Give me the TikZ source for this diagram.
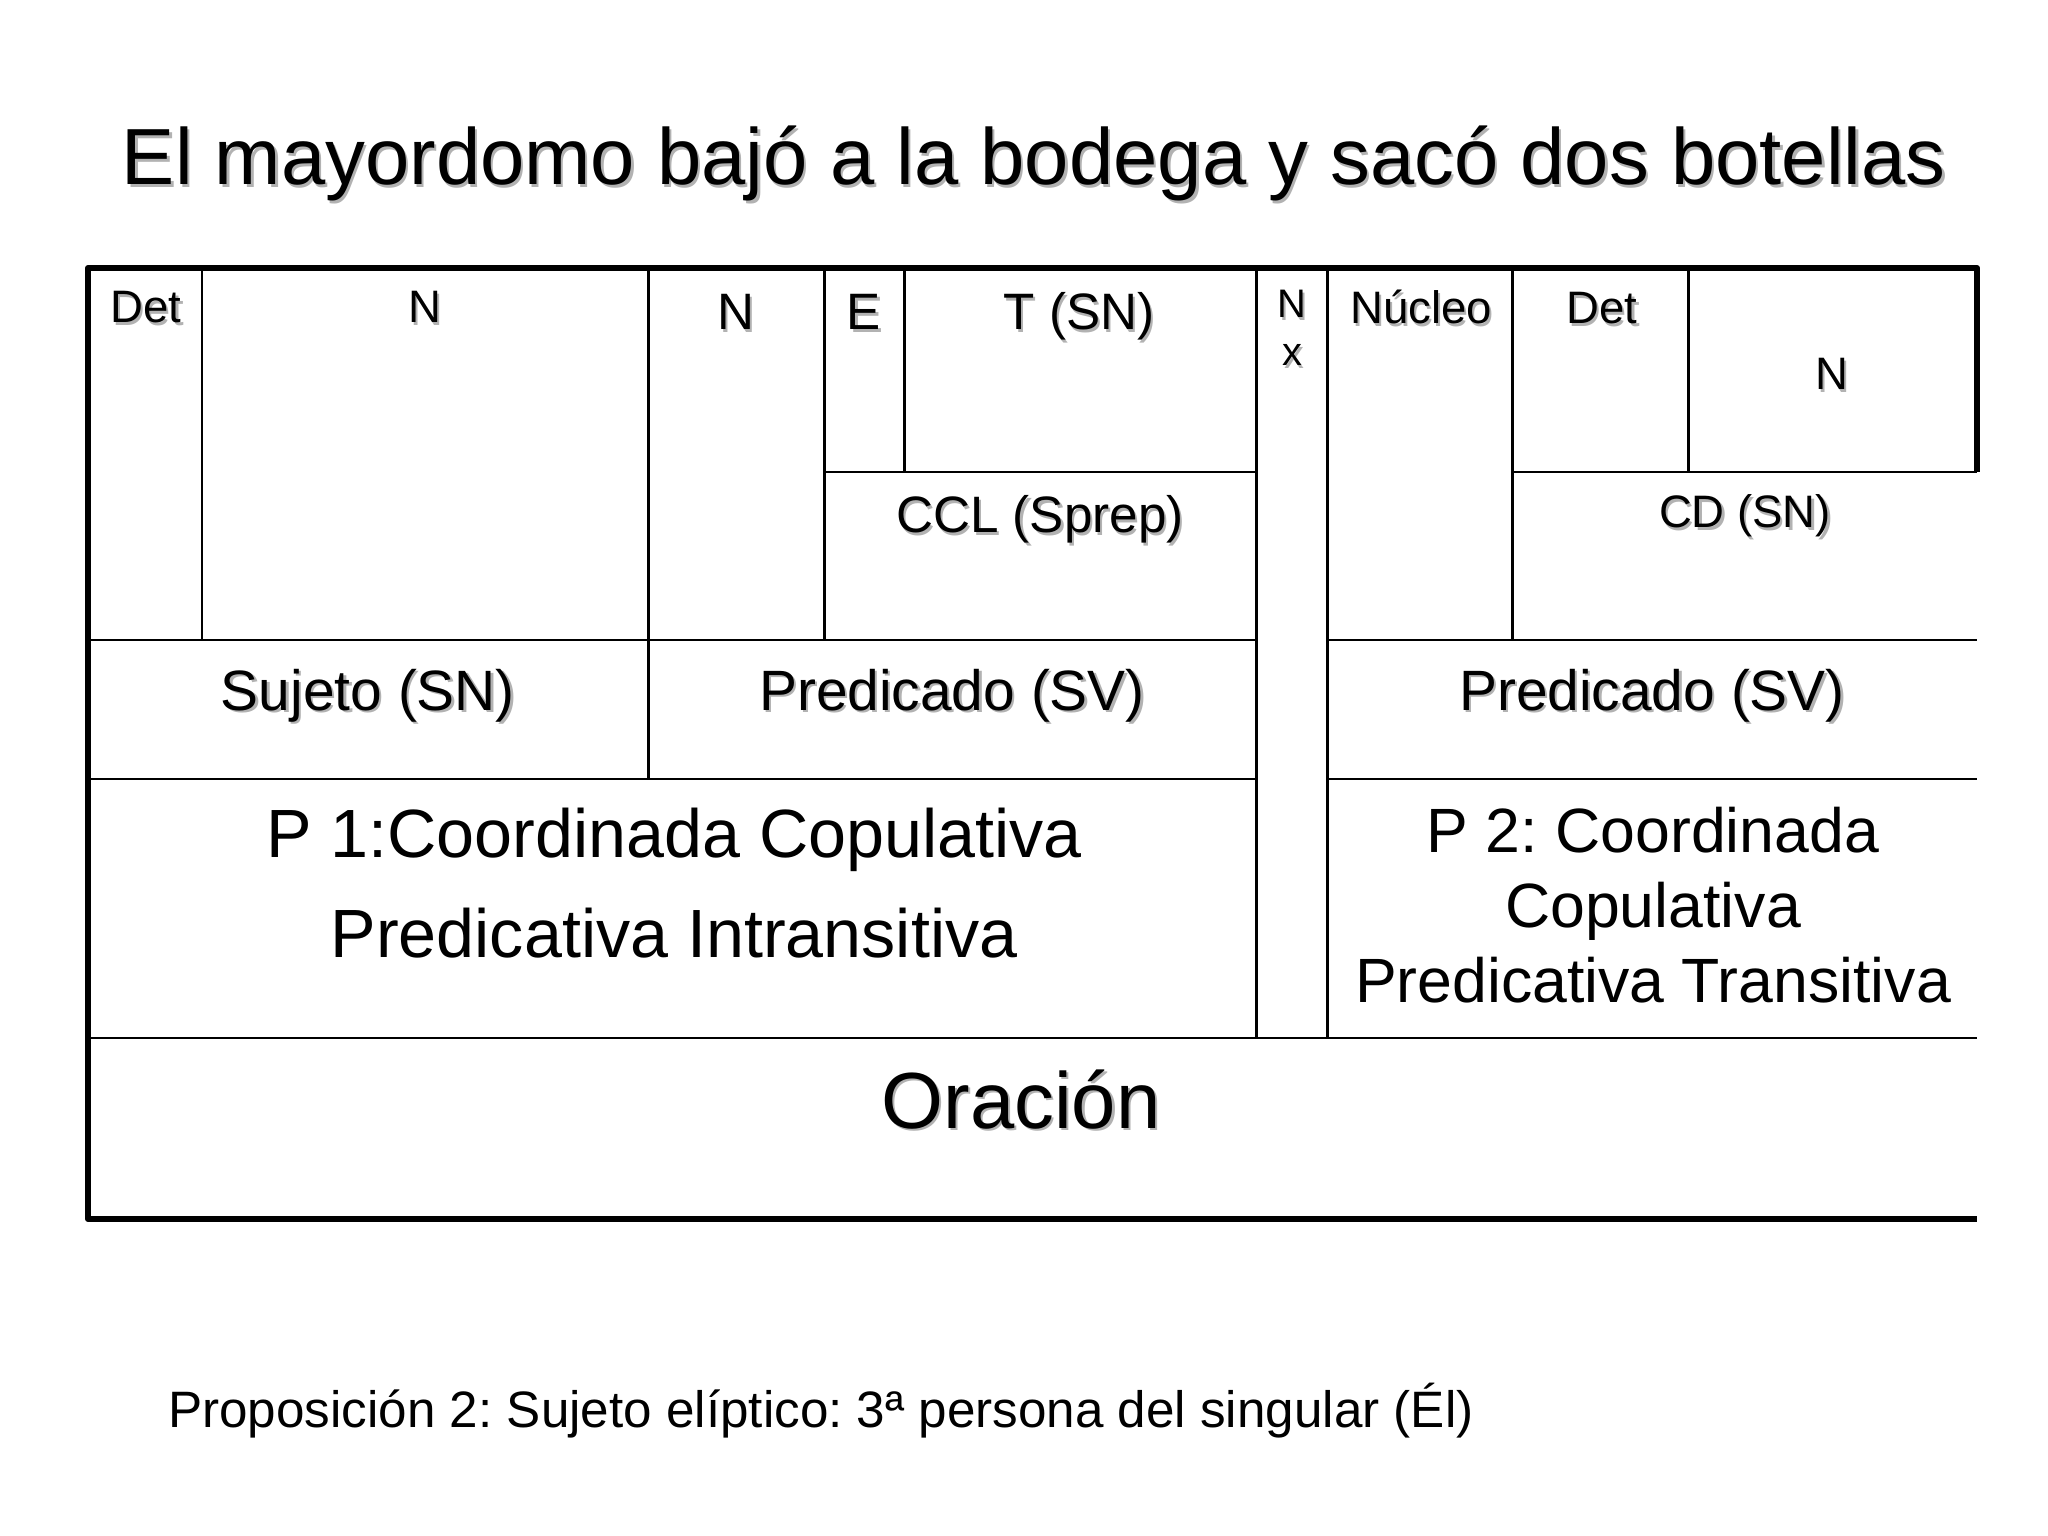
\documentclass[tikz,border=0pt]{standalone}
\usepackage{fontspec}
\setmainfont{Liberation Sans}
\frenchspacing
\definecolor{shadowgray}{gray}{0.70}
\newcommand{\shd}[1]{\makebox[0pt][l]{\raisebox{-0.8pt}{\hspace{0.8pt}\textcolor{shadowgray}{#1}}}#1}

\begin{document}
\begin{tikzpicture}[x=0.3515625pt, y=-0.3515625pt,
        outer/.style = {line width=2.1pt, line join=round},
        inner/.style = {line width=1.05pt},
        lbl/.style = {anchor=base, inner sep=0pt},
        small/.style = {lbl, font=\fontsize{16}{19}\selectfont},
        medium/.style = {lbl, font=\fontsize{18}{22}\selectfont},
        func/.style = {lbl, font=\fontsize{20}{24}\selectfont},
        prop/.style = {lbl, font=\fontsize{24}{29}\selectfont},
        big/.style = {lbl, font=\fontsize{28}{34}\selectfont}]
    \useasboundingbox (0,0) rectangle (2048,1536);
    % title
    \node[big](title) at (1034,185) {\shd{El mayordomo bajó a la bodega y sacó dos botellas}};
    % frame
    \draw[outer] (1977,472) -- (1977,268) -- (88,268) -- (88,1219) -- (1977,1219);
    \draw[inner]
        (202,268) -- (202,640)
        (648,268) -- (648,779)
        (824,268) -- (824,640)
        (904,268) -- (904,472)
        (1256,268) -- (1256,1038)
        (1327,268) -- (1327,1038)
        (1512,268) -- (1512,640)
        (1688,268) -- (1688,472)
        (824,472) -- (1256,472)
        (1512,472) -- (1977,472)
        (88,640) -- (1256,640)
        (1327,640) -- (1977,640)
        (88,779) -- (1256,779)
        (1327,779) -- (1977,779)
        (88,1038) -- (1977,1038);
    % first clause
    \node[small](det1) at (146,323) {\shd{Det}};
    \node[small](n1) at (425,323) {\shd{N}};
    \node[medium](n2) at (736,330) {\shd{N}};
    \node[medium](e) at (864,330) {\shd{E}};
    \node[medium](t) at (1079,330) {\shd{T (SN)}};
    \node[medium](ccl) at (1040,533) {\shd{CCL (Sprep)}};
    \node[func](suj) at (368,710) {\shd{Sujeto (SN)}};
    \node[func](pred1) at (952,710) {\shd{Predicado (SV)}};
    \node[prop](p1a) at (674,857) {P 1:Coordinada Copulativa};
    \node[prop](p1b) at (674,957) {Predicativa Intransitiva};
    % nexus
    \node[lbl, font=\fontsize{14}{17}\selectfont](nx1) at (1292,318) {\shd{N}};
    \node[lbl, font=\fontsize{14}{17}\selectfont](nx2) at (1292,366) {\shd{x}};
    % second clause
    \node[small](nuc) at (1421,324) {\shd{Núcleo}};
    \node[small](det2) at (1602,324) {\shd{Det}};
    \node[small](n3) at (1832,390) {\shd{N}};
    \node[small](cd) at (1745,528) {\shd{CD (SN)}};
    \node[func](pred2) at (1652,710) {\shd{Predicado (SV)}};
    \node[prop, font=\fontsize{22}{26}\selectfont](p2a) at (1653,852) {P 2: Coordinada};
    \node[prop, font=\fontsize{22}{26}\selectfont](p2b) at (1653,927) {Copulativa};
    \node[prop, font=\fontsize{22}{26}\selectfont](p2c) at (1653,1002) {Predicativa Transitiva};
    % sentence
    \node[big](orac) at (1021,1128) {\shd{Oración}};
    % note
    \node[lbl, font=\fontsize{18}{22}\selectfont](note) at (821,1427) {Proposición 2: Sujeto elíptico: 3ª persona del singular (Él)};
\end{tikzpicture}
\end{document}
